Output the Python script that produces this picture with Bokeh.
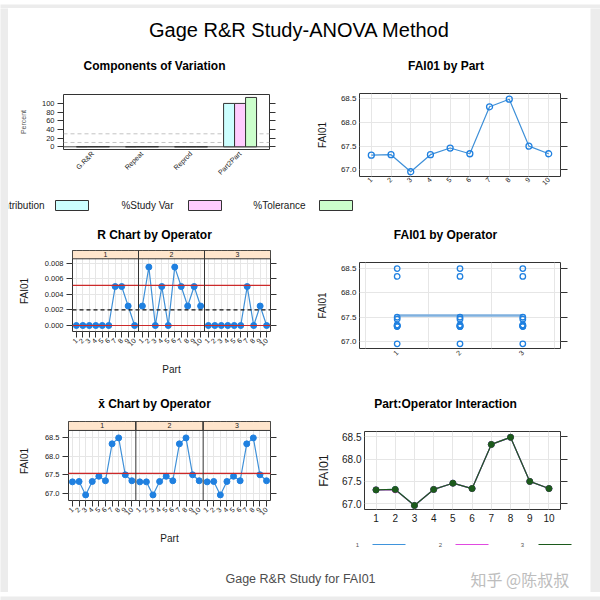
import math
from bokeh.plotting import figure
from bokeh.models import (Range1d, FixedTicker, LinearAxis, Span,
                          ColumnDataSource, PrintfTickFormatter)
from bokeh.layouts import column, row
from bokeh.transform import dodge
from bokeh.embed import file_html
from bokeh.resources import INLINE
from bokeh.core.properties import value

FONT = "Liberation Sans"
CJK = "Noto Sans CJK SC"

# ---------------- data ----------------
components = ["G.R&R", "Repeat", "Reprod", "Part2Part"]
pct_contribution = [0.0, 0.0, 0.0, 100.0]
pct_study_var = [0.3, 0.3, 0.0, 100.0]
pct_tolerance = [0.35, 0.35, 0.0, 113.8]
guide_lines = [10, 30]
percent_ticks = [0, 20, 40, 60, 80, 100]

parts = [1, 2, 3, 4, 5, 6, 7, 8, 9, 10]
part_means = [67.31, 67.32, 66.96, 67.32, 67.46, 67.34, 68.33, 68.49, 67.50, 67.34]
operators = [1, 2, 3]
xbar_op1 = [67.31, 67.32, 66.96, 67.32, 67.46, 67.34, 68.33, 68.49, 67.50, 67.34]
xbar_op2 = [67.31, 67.31, 66.96, 67.32, 67.46, 67.34, 68.33, 68.49, 67.50, 67.34]
xbar_op3 = [67.31, 67.32, 66.96, 67.32, 67.46, 67.34, 68.33, 68.49, 67.50, 67.34]
range_op1 = [0.0, 0.0, 0.0, 0.0, 0.0, 0.0, 0.005, 0.005, 0.0025, 0.0]
range_op2 = [0.0025, 0.0075, 0.0, 0.005, 0.0, 0.0075, 0.005, 0.0025, 0.005, 0.0025]
range_op3 = [0.0, 0.0, 0.0, 0.0, 0.0, 0.0, 0.005, 0.0, 0.0025, 0.0]
r_ucl = 0.00515
r_center = 0.002
r_lcl = 0.0
xbar_center = 67.537
xbar_ucl = 67.539
xbar_lcl = 67.535
operator_means = [67.537, 67.537, 67.537]
fai_ticks = [67.0, 67.5, 68.0, 68.5]
range_ticks = [0.0, 0.002, 0.004, 0.006, 0.008]
legend_names = ["%Contribution", "%Study Var", "%Tolerance"]
interaction_names = ["1", "2", "3"]
panel_titles = ["Components of Variation", "FAI01 by Part", "R Chart by Operator",
                "FAI01 by Operator", "x\u0304 Chart by Operator", "Part:Operator Interaction"]

# ---------------- style ----------------
FRAME = "#333333"
GRID = "#e6e6e6"
PT_BLUE = "#1f80e0"
LN_BLUE = "#3f90d8"
STRIP = "#ffe5cc"
RED = "#cc2a2a"
EDGE = "#ececec"
BAR_COLS = ["#ccffff", "#ffccff", "#ccffcc"]
OP_COLS = ["#3f94dc", "#e04ae0", "#1c5a1c"]
FW = 10.2  # facet width in x units


def make_panel(w, h, bl, br, bt, bb, xr, yr):
    p = figure(width=w, height=h, x_range=Range1d(*xr), y_range=Range1d(*yr),
               output_backend="svg", toolbar_location=None,
               min_border_left=bl, min_border_right=br,
               min_border_top=bt, min_border_bottom=bb)
    p.frame_align = False
    p.outline_line_color = FRAME
    p.outline_line_width = 1
    p.background_fill_color = "white"
    p.border_fill_color = "white"
    p.xgrid.grid_line_color = GRID
    p.ygrid.grid_line_color = GRID
    for ax in p.axis:
        ax.axis_line_color = None
        ax.major_tick_in = 0
        ax.major_tick_out = 0
        ax.major_tick_line_color = FRAME
        ax.minor_tick_line_color = None
        ax.major_label_text_font = FONT
        ax.major_label_text_color = "#1a1a1a"
        ax.major_label_standoff = 3
        ax.axis_label_text_font = FONT
        ax.axis_label_text_font_style = "normal"
        ax.axis_label_text_color = "#1a1a1a"
    return p


def add_right_axis(p, ticks, tick_len=6):
    ax = LinearAxis(ticker=FixedTicker(ticks=ticks))
    ax.axis_line_color = None
    ax.major_tick_in = 0
    ax.major_tick_out = tick_len
    ax.major_tick_line_color = FRAME
    ax.minor_tick_line_color = None
    ax.major_label_overrides = {t: "" for t in ticks}
    ax.major_label_standoff = 0
    p.add_layout(ax, "right")


def pixel_fig(w, h, x0, fill="white"):
    # a figure whose coordinates are page pixels (x) and pixels from its bottom (y)
    p = figure(width=w, height=h, x_range=Range1d(x0, x0 + w), y_range=Range1d(0, h),
               output_backend="svg", toolbar_location=None, min_border=0)
    p.frame_align = False
    p.axis.visible = False
    p.grid.visible = False
    p.outline_line_color = None
    p.background_fill_color = fill
    p.border_fill_color = fill
    return p


def add_titles(p, texts, xs, y):
    p.text(x=xs, y=[y] * len(xs), text=texts, text_align="center",
           text_baseline="middle", text_font=value(FONT), text_font_size="12px",
           text_font_style="bold", text_color="black")


# ---------------- header + first row titles (page y 8..80) ----------------
head = pixel_fig(582, 72, 8)
head.text(x=[299], y=[80 - 29], text=["Gage R&R Study-ANOVA Method"], text_align="center",
          text_baseline="middle", text_font=value(FONT), text_font_size="20px",
          text_color="black")
add_titles(head, panel_titles[0:2], [154, 445.5], 80 - 65.5)

# ---------------- A: components of variation (page y 80..194) ----------------
pA = make_panel(292, 114, 55, 31, 14, 45, (0.4, 4.6), (-6.2, 120.6))
pA.xgrid.visible = False
pA.ygrid.visible = False
srcA = ColumnDataSource(dict(x=[1, 2, 3, 4], c=pct_contribution, s=pct_study_var, t=pct_tolerance))
bw = 0.224
for g in guide_lines:
    pA.add_layout(Span(location=g, dimension="width", line_color="#c4c4c4",
                       line_dash="4 3", line_width=1, level="underlay"))
pA.add_layout(Span(location=0, dimension="width", line_color="#444444", line_width=1,
                   level="underlay"))
for off, fld, col in zip([-bw, 0.0, bw], ["c", "s", "t"], BAR_COLS):
    pA.vbar(x=dodge("x", off), top=fld, bottom=0, width=bw, source=srcA,
            fill_color=col, line_color="#333333", line_width=1)
pA.xaxis.ticker = FixedTicker(ticks=[1, 2, 3, 4])
pA.xaxis.major_label_overrides = {i + 1: c for i, c in enumerate(components)}
pA.xaxis.major_label_orientation = math.pi / 4
pA.xaxis.major_label_text_font_size = "7px"
pA.yaxis.ticker = FixedTicker(ticks=percent_ticks)
pA.yaxis.major_label_text_font_size = "7.5px"
pA.yaxis.major_tick_out = 6
pA.yaxis.axis_label = "Percent"
pA.yaxis.axis_label_text_font_size = "7px"
pA.yaxis.axis_label_text_color = "#555555"
pA.yaxis.axis_label_standoff = 12
add_right_axis(pA, percent_ticks)

# ---------------- B: FAI01 by part ----------------
pB = make_panel(290, 114, 59, 30, 13, 18, (0.4, 10.6), (66.86, 68.61))
pB.line(parts, part_means, color=LN_BLUE, line_width=1.2)
pB.scatter(parts, part_means, marker="circle", size=6, fill_color=None,
           line_color=PT_BLUE, line_width=1.3)
pB.xaxis.ticker = FixedTicker(ticks=parts)
pB.xaxis.major_label_orientation = math.pi / 4
pB.xaxis.major_label_text_font_size = "7px"
pB.xaxis.major_label_standoff = 2
pB.yaxis.ticker = FixedTicker(ticks=fai_ticks)
pB.yaxis.formatter = PrintfTickFormatter(format="%.1f")
pB.yaxis.major_label_text_font_size = "8px"
pB.yaxis.axis_label = "FAI01"
pB.yaxis.axis_label_text_font_size = "10px"
pB.yaxis.axis_label_standoff = 10
add_right_axis(pB, fai_ticks, 7)

# ---------------- legend row + second row titles (page y 194..244) ----------------
leg = pixel_fig(582, 50, 8)
leg_text_right = [44, 173, 305]
leg_box_left = [55, 188, 319]
leg.text(x=leg_text_right, y=[244 - 205] * 3, text=legend_names, text_align="right",
         text_baseline="middle", text_font=value(FONT), text_font_size="10px",
         text_color="#1a1a1a")
leg.quad(left=leg_box_left, right=[v + 33 for v in leg_box_left], bottom=[244 - 210] * 3,
         top=[244 - 200] * 3, fill_color=BAR_COLS, line_color="#333333", line_width=1)
add_titles(leg, panel_titles[2:4], [154, 445], 244 - 234.2)


# ---------------- facet helper ----------------
def facet_panel(p, series, y_strip0, y_strip1, label_size):
    ticks = []
    overrides = {}
    for k, vals in enumerate(series):
        xs = [pp + k * FW for pp in parts]
        p.line(xs, vals, color=LN_BLUE, line_width=1.2)
        p.scatter(xs, vals, marker="circle", size=6, color=PT_BLUE)
        ticks += xs
        for pp, xx in zip(parts, xs):
            overrides[xx] = str(pp)
    lefts = [0.4 + k * FW for k in range(3)]
    p.quad(left=lefts, right=[v + FW for v in lefts], bottom=[y_strip0] * 3,
           top=[y_strip1] * 3, fill_color=STRIP, line_color=FRAME, line_width=1)
    p.text(x=[v + FW / 2 for v in lefts], y=[(y_strip0 + y_strip1) / 2] * 3,
           text=[str(o) for o in operators], text_align="center", text_baseline="middle",
           text_font=value(FONT), text_font_size="7px", text_color="#1a1a1a")
    for k in (1, 2):
        p.add_layout(Span(location=0.4 + k * FW, dimension="height",
                          line_color=FRAME, line_width=1))
    p.xaxis.ticker = FixedTicker(ticks=ticks)
    p.xaxis.major_label_overrides = overrides
    p.xaxis.major_label_orientation = math.pi / 4
    p.xaxis.major_label_text_font_size = "7px"
    p.xaxis.major_tick_out = 6
    p.xaxis.major_label_standoff = 2
    p.xaxis.axis_label = "Part"
    p.xaxis.axis_label_text_font_size = "10px"
    p.xaxis.axis_label_standoff = 12
    p.yaxis.major_tick_out = 6
    p.yaxis.major_label_text_font_size = label_size
    p.yaxis.axis_label = "FAI01"
    p.yaxis.axis_label_text_font_size = "10px"
    p.yaxis.axis_label_standoff = 12


# ---------------- C: R chart (page y 244..388) ----------------
pC = make_panel(292, 144, 64, 30, 6, 57, (0.4, 0.4 + 3 * FW), (-0.00077, 0.009626))
for loc, col, dash in [(r_ucl, RED, "solid"), (r_lcl, RED, "solid"), (r_center, "#111111", "4 3")]:
    pC.add_layout(Span(location=loc, dimension="width", line_color=col,
                       line_width=1.2, line_dash=dash))
facet_panel(pC, [range_op1, range_op2, range_op3], 0.00856, 0.009626, "7.5px")
pC.yaxis.ticker = FixedTicker(ticks=range_ticks)
pC.yaxis.formatter = PrintfTickFormatter(format="%.3f")
add_right_axis(pC, range_ticks)

# ---------------- D: FAI01 by operator ----------------
pD = make_panel(290, 144, 59, 30, 18, 40, (0.4, 3.6), (66.864, 68.614))
pD.line(operators, operator_means, color="#7fb0de", line_width=2.5)
for op, vals in zip(operators, [xbar_op1, xbar_op2, xbar_op3]):
    pD.scatter([op] * len(vals), vals, marker="circle", size=5.5, fill_color=None,
               line_color=PT_BLUE, line_width=1.3)
pD.xaxis.ticker = FixedTicker(ticks=operators)
pD.xgrid.ticker = FixedTicker(ticks=[0.5, 1.5, 2.5, 3.5])
pD.xaxis.major_label_orientation = math.pi / 4
pD.xaxis.major_label_text_font_size = "7px"
pD.yaxis.ticker = FixedTicker(ticks=fai_ticks)
pD.yaxis.formatter = PrintfTickFormatter(format="%.1f")
pD.yaxis.major_label_text_font_size = "8px"
pD.yaxis.axis_label = "FAI01"
pD.yaxis.axis_label_text_font_size = "10px"
pD.yaxis.axis_label_standoff = 10
add_right_axis(pD, fai_ticks, 7)

# ---------------- third row titles (page y 388..412) ----------------
t3 = pixel_fig(582, 24, 8)
add_titles(t3, panel_titles[4:6], [154, 445], 412 - 403.2)

# ---------------- E: xbar chart (page y 412..556) ----------------
pE = make_panel(292, 144, 60, 30, 9, 56, (0.4, 0.4 + 3 * FW), (66.81, 68.93))
for loc in [xbar_ucl, xbar_lcl, xbar_center]:
    pE.add_layout(Span(location=loc, dimension="width", line_color=RED, line_width=1.0))
facet_panel(pE, [xbar_op1, xbar_op2, xbar_op3], 68.69, 68.93, "7.5px")
pE.yaxis.ticker = FixedTicker(ticks=fai_ticks)
pE.yaxis.formatter = PrintfTickFormatter(format="%.1f")
add_right_axis(pE, fai_ticks)

# ---------------- F: interaction (page y 412..534) ----------------
pF = make_panel(290, 122, 64, 30, 19, 25, (0.4, 10.6), (66.87, 68.62))
for vals, col in zip([xbar_op1, xbar_op2, xbar_op3], OP_COLS):
    pF.line(parts, vals, color=col, line_width=1.2)
    pF.scatter(parts, vals, marker="circle", size=6, color=col)
pF.xaxis.ticker = FixedTicker(ticks=parts)
pF.xaxis.major_label_text_font_size = "10px"
pF.xaxis.major_label_standoff = 4
pF.yaxis.ticker = FixedTicker(ticks=fai_ticks)
pF.yaxis.formatter = PrintfTickFormatter(format="%.1f")
pF.yaxis.major_label_text_font_size = "10px"
pF.yaxis.axis_label = "FAI01"
pF.yaxis.axis_label_text_font_size = "12.5px"
pF.yaxis.axis_label_standoff = 8
add_right_axis(pF, fai_ticks, 7)

legF = pixel_fig(290, 22, 300)
legF.text(x=[357, 440, 522], y=[12] * 3, text=interaction_names, text_align="center",
          text_baseline="middle", text_font=value(FONT), text_font_size="6px",
          text_color="#555555")
legF.segment(x0=[372, 455, 538], y0=[12] * 3, x1=[405, 488, 571], y1=[12] * 3,
             line_color=OP_COLS, line_width=1.2)

# ---------------- footer (page y 556..592) ----------------
foot = pixel_fig(582, 36, 8)
foot.text(x=[300], y=[592 - 578], text=["Gage R&R Study for FAI01"], text_align="center",
          text_baseline="middle", text_font=value(FONT), text_font_size="12.5px",
          text_color="#4d4d4d")
foot.text(x=[470], y=[592 - 578], text=["知乎 @陈叔叔"], text_align="left",
          text_baseline="middle", text_font=value(CJK), text_font_size="16px",
          text_color="#bdbdbd")

content = column(head, row(pA, pB), leg, row(pC, pD), t3, row(pE, column(pF, legF)), foot)

# light grey window edge around the chart
edge_top = pixel_fig(600, 8, 0, EDGE)
edge_bottom = pixel_fig(600, 8, 0, EDGE)
edge_left = pixel_fig(8, 584, 0, EDGE)
edge_right = pixel_fig(10, 584, 590, EDGE)
layout = column(edge_top, row(edge_left, content, edge_right), edge_bottom)
open("out.html", "w").write(file_html(layout, INLINE))
